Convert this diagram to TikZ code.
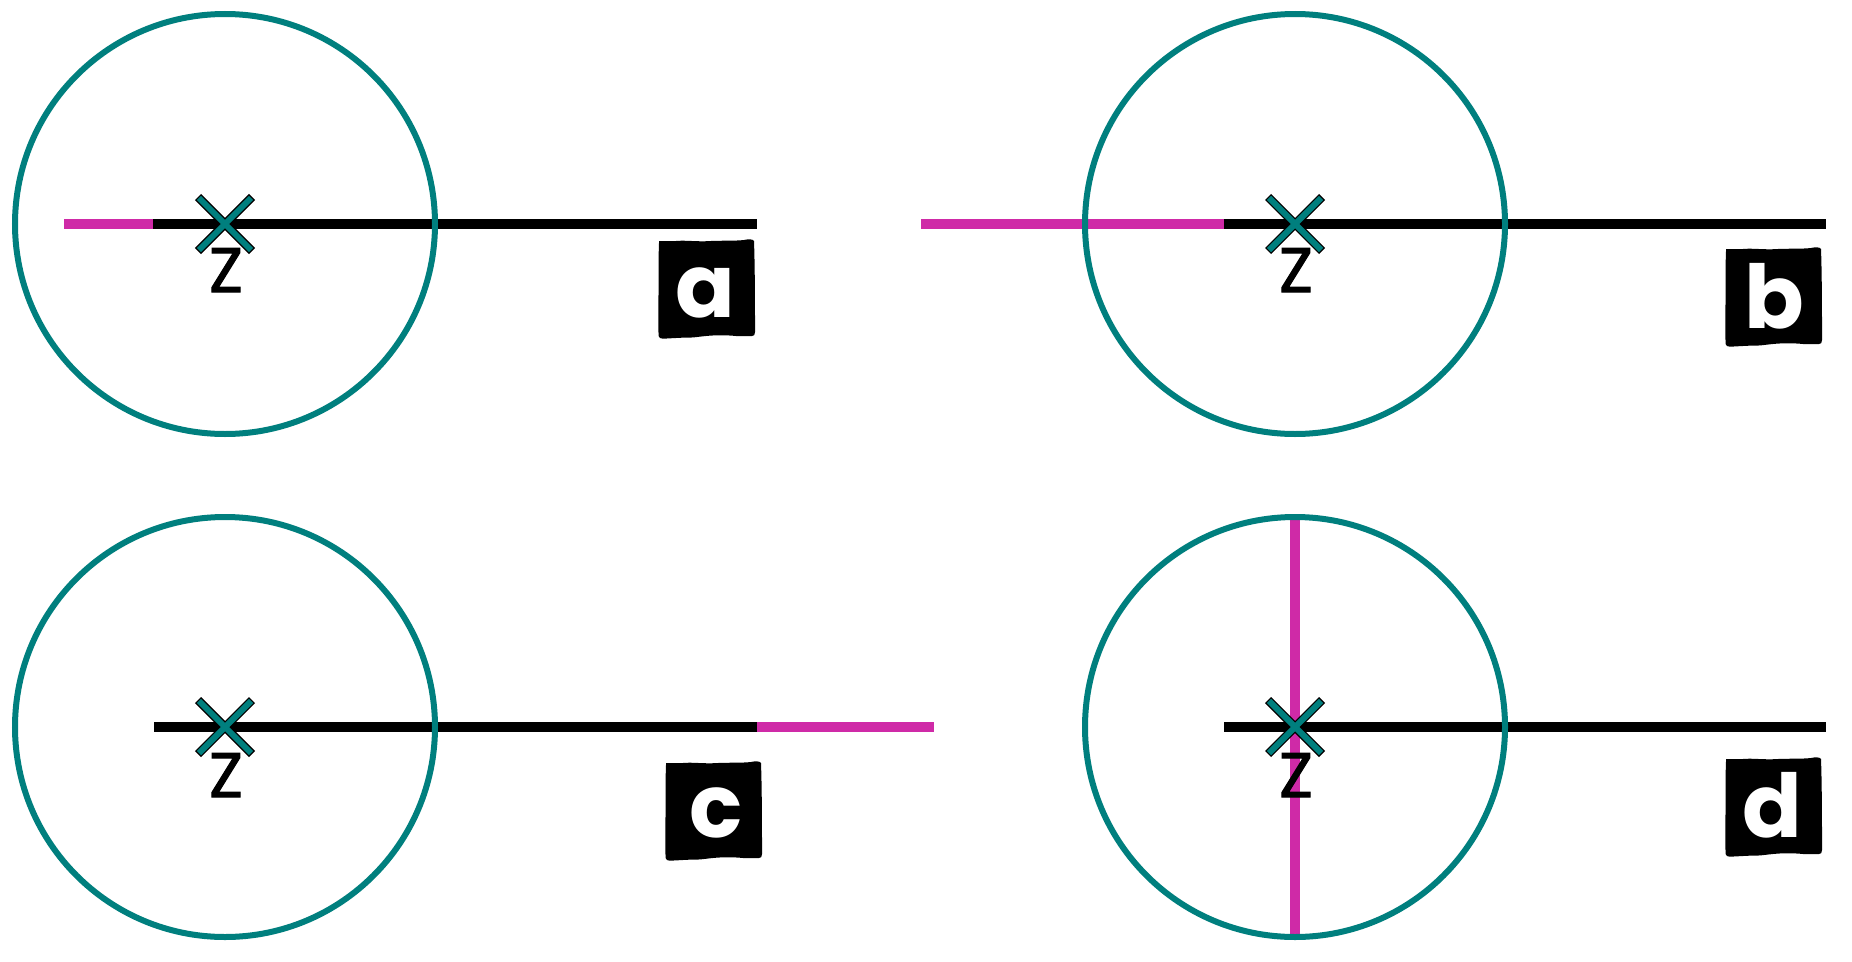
\documentclass[tikz,border=0pt]{standalone}
\usepackage{fontspec}
\setmainfont{Poppins}
\newfontfamily\zfont{Poppins}[FakeBold=1.6]
\definecolor{tealc}{HTML}{007F7E}
\definecolor{mag}{HTML}{CF2AA7}
\tikzset{
  ring/.style={circle, draw=tealc, line width=6pt, minimum size=420pt, inner sep=0pt, outer sep=0pt},
  seg/.style={line width=9.5pt},
  zlab/.style={font=\zfont\fontsize{63}{66}\selectfont, anchor=base, inner sep=0pt},
  letlab/.style={font=\fontsize{88}{90}\selectfont\bfseries, text=white, anchor=base, inner sep=0pt},
  xmark/.pic={
    \draw[line width=8.5pt] (-27,-27) -- (27,27);
    \draw[line width=8.5pt] (-27,27) -- (27,-27);
    \draw[tealc, line width=6pt, shorten <=1.3pt, shorten >=1.3pt] (-27,-27) -- (27,27);
    \draw[tealc, line width=6pt, shorten <=1.3pt, shorten >=1.3pt] (-27,27) -- (27,-27);
  },
  tagbox/.pic={
    \fill[black] (3,4) .. controls (2,2) and (3,2) .. (6,2) -- (20,2)
      .. controls (30,1) and (40,3) .. (55,2)
      .. controls (65,1.5) and (80,2) .. (88,1)
      .. controls (92,0) and (97,0) .. (98,2)
      .. controls (99,30) and (99,70) .. (99,93)
      .. controls (99,96) and (98,97) .. (96,97) -- (80,97)
      .. controls (70,96) and (60,96) .. (50,97)
      .. controls (40,98) and (35,99) .. (30,98.5) -- (20,99)
      .. controls (10,99.5) and (6,100) .. (4,99)
      .. controls (2,98) and (2.5,96) .. (2.5,94)
      .. controls (2,70) and (3,40) .. (2.5,20) -- cycle;
  }
}
\begin{document}
\begin{tikzpicture}[x=1pt, y=-1pt]
\fill[white] (0,0) rectangle (1852,961);
\useasboundingbox (0,0) rectangle (1852,961);

% ---------- panel a ----------
\coordinate (a1) at (64,224);
\coordinate (a2) at (153,224);
\coordinate (a3) at (757,224);
\draw[seg, mag] (a1) -- (a2);
\draw[seg] (a2) -- (a3);
\node[ring] (ca) at (225,224) {};
\pic at (ca.center) {xmark};
\node[zlab] (za) at (226,292) {Z};
\pic at (656,239) {tagbox};
\node[letlab] (la) at (705,317) {a};

% ---------- panel b ----------
\coordinate (b1) at (921,224);
\coordinate (b2) at (1224,224);
\coordinate (b3) at (1826,224);
\draw[seg, mag] (b1) -- (b2);
\draw[seg] (b2) -- (b3);
\node[ring] (cb) at (1295,224) {};
\pic at (cb.center) {xmark};
\node[zlab] (zb) at (1296,292) {Z};
\pic at (1723,247) {tagbox};
\node[letlab] (lb) at (1774,328) {b};

% ---------- panel c ----------
\coordinate (c1) at (154,727);
\coordinate (c2) at (757,727);
\coordinate (c3) at (934,727);
\draw[seg] (c1) -- (c2);
\draw[seg, mag] (c2) -- (c3);
\node[ring] (cc) at (225,727) {};
\pic at (cc.center) {xmark};
\node[zlab] (zc) at (226,797) {Z};
\pic at (663,761) {tagbox};
\node[letlab] (lc) at (716,837) {c};

% ---------- panel d ----------
\coordinate (d1) at (1224,727);
\coordinate (d2) at (1826,727);
\coordinate (dt) at (1295,517);
\coordinate (db) at (1295,937);
\draw[seg] (d1) -- (d2);
\draw[seg, mag] (dt) -- (db);
\node[ring] (cd) at (1295,727) {};
\pic at (cd.center) {xmark};
\node[zlab] (zd) at (1296,797) {Z};
\pic at (1723,757) {tagbox};
\node[letlab] (ld) at (1772,837) {d};
\end{tikzpicture}
\end{document}
